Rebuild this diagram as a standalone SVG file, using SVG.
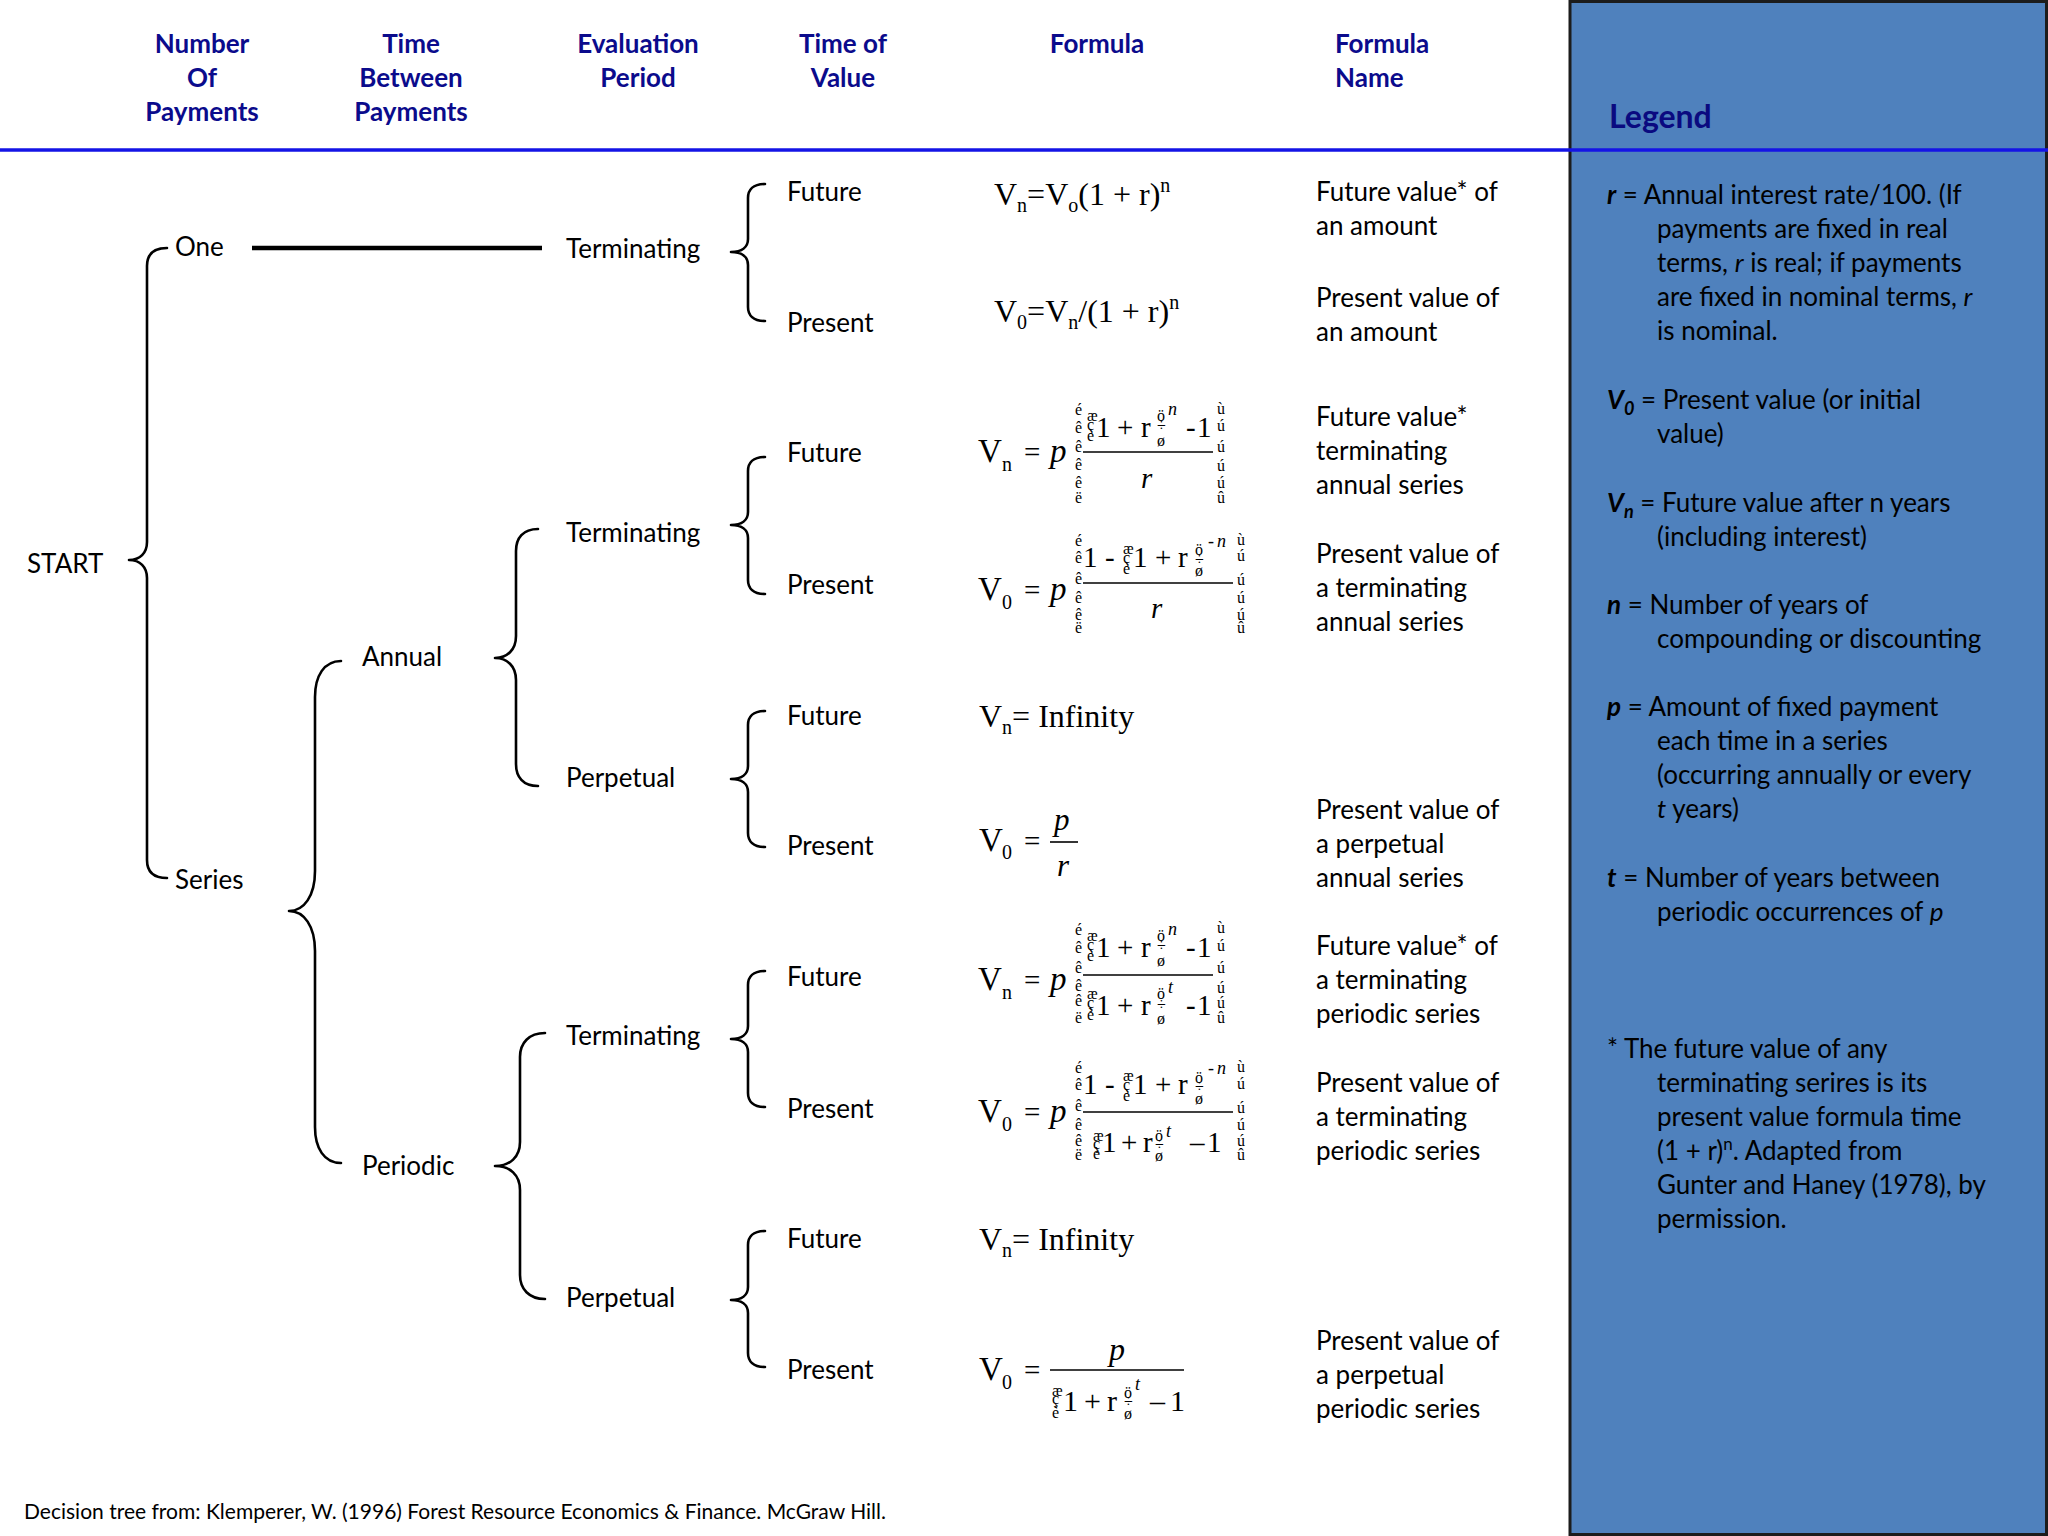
<svg xmlns="http://www.w3.org/2000/svg" width="2048" height="1536" viewBox="0 0 2048 1536">
<style>
.lbl{font-family:Lato,"Liberation Sans",sans-serif;font-size:26px;fill:#000}
.hdr{font-family:Lato,"Liberation Sans",sans-serif;font-weight:bold;font-size:26px;fill:#0b0b8c;text-anchor:middle}
.hdrl{font-family:Lato,"Liberation Sans",sans-serif;font-weight:bold;font-size:26px;fill:#0b0b8c}
.lg{font-family:Lato,"Liberation Sans",sans-serif;font-size:26px;fill:#000}
.bi{font-weight:bold;font-style:italic}
.i{font-style:italic}
.fm{font-family:"Liberation Serif","Times New Roman",serif;fill:#000}
.V{font-size:33px}
.sub{font-size:20px}
.sup{font-size:18px}
.num{font-size:29px}
.big{font-size:32px}
.br{font-size:16px}
.it{font-style:italic}
.brace{fill:none;stroke:#000;stroke-width:2.6;stroke-linecap:round;stroke-linejoin:round}
.fl{stroke:#000;stroke-width:1.6}
</style>
<rect x="0" y="0" width="2048" height="1536" fill="#fff"/>

<g id="legend-panel">
<rect x="1570" y="1.5" width="476.5" height="1533" fill="#4f81bd" stroke="#1c1c1c" stroke-width="3"/>
</g>
<line id="header-rule" x1="0" y1="150" x2="2048" y2="150" stroke="#1414e6" stroke-width="3.5"/>

<g id="headers">
<text class="hdr"><tspan x="202" y="53">Number</tspan><tspan x="202" y="87">Of</tspan><tspan x="202" y="121">Payments</tspan></text>
<text class="hdr"><tspan x="411" y="53">Time</tspan><tspan x="411" y="87">Between</tspan><tspan x="411" y="121">Payments</tspan></text>
<text class="hdr"><tspan x="638" y="53">Evaluation</tspan><tspan x="638" y="87">Period</tspan></text>
<text class="hdr"><tspan x="843" y="53">Time of</tspan><tspan x="843" y="87">Value</tspan></text>
<text class="hdr"><tspan x="1097" y="53">Formula</tspan></text>
<text class="hdrl"><tspan x="1335" y="53">Formula</tspan><tspan x="1335" y="87">Name</tspan></text>
<text class="hdrl" x="1609" y="128" style="font-size:32px;fill:#0a0a80">Legend</text>
</g>

<g id="connectors">
<path class="brace" d="M167,248 C153,248 147,255 147,266 L147,542 C147,553 140,560 129,560 C140,560 147,567 147,578 L147,860 C147,871 153,878 167,878"/>
<line x1="252" y1="248" x2="542" y2="248" stroke="#000" stroke-width="4.5"/>
<path class="brace" d="M341,661 C324,661 315,676 315,697 L315,871 C315,896 304,911 289,911 C304,911 315,926 315,951 L315,1127 C315,1148 324,1163 341,1163"/>
<path class="brace" d="M538,529 C523,529 516,538 516,551 L516,636 C516,650 507,658 495,658 C507,658 516,666 516,680 L516,764 C516,777 523,786 538,786"/>
<path class="brace" d="M545,1033 C529,1033 520,1043 520,1057 L520,1142 C520,1157 510,1166 495,1166 C510,1166 520,1175 520,1190 L520,1275 C520,1289 529,1299 545,1299"/>
<path class="brace" d="M765,184 C753,184 748,190 748,198 L748,239 C748,247 742,252 731,252 C742,252 748,257 748,265 L748,307 C748,315 753,321 765,321"/>
<path class="brace" d="M765,457 C753,457 748,463 748,471 L748,512 C748,520 742,525 731,525 C742,525 748,530 748,538 L748,580 C748,588 753,594 765,594"/>
<path class="brace" d="M765,711 C753,711 748,717 748,725 L748,766 C748,774 742,779 731,779 C742,779 748,784 748,792 L748,833 C748,841 753,847 765,847"/>
<path class="brace" d="M765,971 C753,971 748,977 748,985 L748,1026 C748,1034 742,1039 731,1039 C742,1039 748,1044 748,1052 L748,1093 C748,1101 753,1107 765,1107"/>
<path class="brace" d="M765,1231 C753,1231 748,1237 748,1245 L748,1287 C748,1295 742,1300 731,1300 C742,1300 748,1305 748,1313 L748,1353 C748,1361 753,1367 765,1367"/>
</g>

<g id="node-start"><text class="lbl" x="27" y="573">START</text></g>
<g id="node-one"><text class="lbl" x="175" y="256">One</text></g>
<g id="node-series"><text class="lbl" x="175" y="889">Series</text></g>
<g id="node-annual"><text class="lbl" x="362" y="666">Annual</text></g>
<g id="node-periodic"><text class="lbl" x="362" y="1175">Periodic</text></g>
<g id="node-one-terminating"><text class="lbl" x="566" y="258">Terminating</text></g>
<g id="node-annual-terminating"><text class="lbl" x="566" y="542">Terminating</text></g>
<g id="node-annual-perpetual"><text class="lbl" x="566" y="787">Perpetual</text></g>
<g id="node-periodic-terminating"><text class="lbl" x="566" y="1045">Terminating</text></g>
<g id="node-periodic-perpetual"><text class="lbl" x="566" y="1307">Perpetual</text></g>

<g id="node-tov-1"><text class="lbl" x="787" y="201">Future</text><text class="lbl" x="787" y="332">Present</text></g>
<g id="node-tov-2"><text class="lbl" x="787" y="462">Future</text><text class="lbl" x="787" y="594">Present</text></g>
<g id="node-tov-3"><text class="lbl" x="787" y="725">Future</text><text class="lbl" x="787" y="855">Present</text></g>
<g id="node-tov-4"><text class="lbl" x="787" y="986">Future</text><text class="lbl" x="787" y="1118">Present</text></g>
<g id="node-tov-5"><text class="lbl" x="787" y="1248">Future</text><text class="lbl" x="787" y="1379">Present</text></g>

<g id="formula-1">
<text class="fm big" x="994" y="205">V<tspan class="sub" dy="7">n</tspan><tspan dy="-7">=V</tspan><tspan class="sub" dy="7">o</tspan><tspan dy="-7">(1 + r)</tspan><tspan class="sub" dy="-13">n</tspan></text>
</g>
<g id="formula-2">
<text class="fm big" x="994" y="322">V<tspan class="sub" dy="7">0</tspan><tspan dy="-7">=V</tspan><tspan class="sub" dy="7">n</tspan><tspan dy="-7">/(1 + r)</tspan><tspan class="sub" dy="-13">n</tspan></text>
</g>

<g id="formula-3">
<text class="fm V" x="978" y="462">V</text>
<text class="fm sub" x="1002" y="471">n</text>
<text class="fm num" x="1024" y="462">=</text>
<text class="fm V it" x="1050" y="462">p</text>
<text class="fm br"><tspan x="1075" y="415">é</tspan><tspan x="1075" y="433">ê</tspan><tspan x="1075" y="452">ê</tspan><tspan x="1075" y="470">ê</tspan><tspan x="1075" y="488">ê</tspan><tspan x="1075" y="503">ë</tspan></text>
<text class="fm br"><tspan x="1087" y="421">æ</tspan><tspan x="1087" y="430">ç</tspan><tspan x="1087" y="441">è</tspan></text>
<text class="fm num" x="1096 1117 1141" y="437">1+r</text>
<text class="fm br"><tspan x="1157" y="421">ö</tspan><tspan x="1157" y="431">÷</tspan><tspan x="1157" y="446">ø</tspan></text>
<text class="fm sup it" x="1168" y="415">n</text>
<text class="fm num" x="1186 1197" y="437">-1</text>
<text class="fm br"><tspan x="1217" y="414">ù</tspan><tspan x="1217" y="431">ú</tspan><tspan x="1217" y="452">ú</tspan><tspan x="1217" y="471">ú</tspan><tspan x="1217" y="488">ú</tspan><tspan x="1217" y="503">û</tspan></text>
<line class="fl" x1="1083" y1="452" x2="1213" y2="452"/>
<text class="fm num it" x="1141" y="488">r</text>
</g>

<g id="formula-4">
<text class="fm V" x="978" y="600">V</text>
<text class="fm sub" x="1002" y="609">0</text>
<text class="fm num" x="1024" y="600">=</text>
<text class="fm V it" x="1050" y="600">p</text>
<text class="fm br"><tspan x="1075" y="546">é</tspan><tspan x="1075" y="563">ê</tspan><tspan x="1075" y="584">ê</tspan><tspan x="1075" y="603">ê</tspan><tspan x="1075" y="620">ê</tspan><tspan x="1075" y="633">ë</tspan></text>
<text class="fm num" x="1083 1105" y="567">1-</text>
<text class="fm br"><tspan x="1123" y="554">æ</tspan><tspan x="1123" y="563">ç</tspan><tspan x="1123" y="574">è</tspan></text>
<text class="fm num" x="1133 1155 1178" y="567">1+r</text>
<text class="fm br"><tspan x="1195" y="555">ö</tspan><tspan x="1195" y="565">÷</tspan><tspan x="1195" y="576">ø</tspan></text>
<text class="fm sup" x="1208" y="547">-</text>
<text class="fm sup it" x="1217" y="547">n</text>
<text class="fm br"><tspan x="1237" y="545">ù</tspan><tspan x="1237" y="561">ú</tspan><tspan x="1237" y="585">ú</tspan><tspan x="1237" y="603">ú</tspan><tspan x="1237" y="620">ú</tspan><tspan x="1237" y="633">û</tspan></text>
<line class="fl" x1="1083" y1="583" x2="1233" y2="583"/>
<text class="fm num it" x="1151" y="618">r</text>
</g>

<g id="formula-5">
<text class="fm big" x="979" y="727">V<tspan class="sub" dy="7">n</tspan><tspan dy="-7">= Infinity</tspan></text>
</g>

<g id="formula-6">
<text class="fm V" x="979" y="851">V</text>
<text class="fm sub" x="1002" y="859">0</text>
<text class="fm num" x="1024" y="851">=</text>
<line class="fl" x1="1050" y1="842" x2="1078" y2="842"/>
<text class="fm it" font-size="31" x="1054" y="830">p</text>
<text class="fm it" font-size="31" x="1057" y="876">r</text>
</g>

<g id="formula-7">
<text class="fm V" x="978" y="990">V</text>
<text class="fm sub" x="1002" y="999">n</text>
<text class="fm num" x="1024" y="990">=</text>
<text class="fm V it" x="1050" y="990">p</text>
<text class="fm br"><tspan x="1075" y="935">é</tspan><tspan x="1075" y="953">ê</tspan><tspan x="1075" y="973">ê</tspan><tspan x="1075" y="991">ê</tspan><tspan x="1075" y="1006">ê</tspan><tspan x="1075" y="1023">ë</tspan></text>
<text class="fm br"><tspan x="1087" y="941">æ</tspan><tspan x="1087" y="950">ç</tspan><tspan x="1087" y="961">è</tspan></text>
<text class="fm num" x="1096 1117 1141" y="957">1+r</text>
<text class="fm br"><tspan x="1157" y="941">ö</tspan><tspan x="1157" y="951">÷</tspan><tspan x="1157" y="966">ø</tspan></text>
<text class="fm sup it" x="1168" y="935">n</text>
<text class="fm num" x="1186 1197" y="957">-1</text>
<line class="fl" x1="1083" y1="975" x2="1213" y2="975"/>
<text class="fm br"><tspan x="1087" y="999">æ</tspan><tspan x="1087" y="1008">ç</tspan><tspan x="1087" y="1020">è</tspan></text>
<text class="fm num" x="1096 1117 1141" y="1015">1+r</text>
<text class="fm br"><tspan x="1157" y="999">ö</tspan><tspan x="1157" y="1010">÷</tspan><tspan x="1157" y="1024">ø</tspan></text>
<text class="fm sup it" x="1168" y="993">t</text>
<text class="fm num" x="1186 1197" y="1015">-1</text>
<text class="fm br"><tspan x="1217" y="933">ù</tspan><tspan x="1217" y="951">ú</tspan><tspan x="1217" y="973">ú</tspan><tspan x="1217" y="993">ú</tspan><tspan x="1217" y="1008">ú</tspan><tspan x="1217" y="1023">û</tspan></text>
</g>

<g id="formula-8">
<text class="fm V" x="978" y="1122">V</text>
<text class="fm sub" x="1002" y="1131">0</text>
<text class="fm num" x="1024" y="1122">=</text>
<text class="fm V it" x="1050" y="1122">p</text>
<text class="fm br"><tspan x="1075" y="1073">é</tspan><tspan x="1075" y="1090">ê</tspan><tspan x="1075" y="1111">ê</tspan><tspan x="1075" y="1130">ê</tspan><tspan x="1075" y="1146">ê</tspan><tspan x="1075" y="1160">ë</tspan></text>
<text class="fm num" x="1083 1105" y="1094">1-</text>
<text class="fm br"><tspan x="1123" y="1081">æ</tspan><tspan x="1123" y="1090">ç</tspan><tspan x="1123" y="1101">è</tspan></text>
<text class="fm num" x="1133 1155 1178" y="1094">1+r</text>
<text class="fm br"><tspan x="1195" y="1083">ö</tspan><tspan x="1195" y="1092">÷</tspan><tspan x="1195" y="1104">ø</tspan></text>
<text class="fm sup" x="1208" y="1074">-</text>
<text class="fm sup it" x="1217" y="1074">n</text>
<text class="fm br"><tspan x="1237" y="1072">ù</tspan><tspan x="1237" y="1089">ú</tspan><tspan x="1237" y="1113">ú</tspan><tspan x="1237" y="1130">ú</tspan><tspan x="1237" y="1146">ú</tspan><tspan x="1237" y="1160">û</tspan></text>
<line class="fl" x1="1083" y1="1112" x2="1233" y2="1112"/>
<text class="fm br"><tspan x="1093" y="1141">æ</tspan><tspan x="1093" y="1149">ç</tspan><tspan x="1093" y="1159">è</tspan></text>
<text class="fm num" x="1102 1121 1143" y="1152">1+r</text>
<text class="fm br"><tspan x="1155" y="1141">ö</tspan><tspan x="1155" y="1150">÷</tspan><tspan x="1155" y="1161">ø</tspan></text>
<text class="fm sup it" x="1166" y="1137">t</text>
<text class="fm num" x="1190 1207" y="1152">–1</text>
</g>

<g id="formula-9">
<text class="fm big" x="979" y="1250">V<tspan class="sub" dy="7">n</tspan><tspan dy="-7">= Infinity</tspan></text>
</g>

<g id="formula-10">
<text class="fm V" x="979" y="1380">V</text>
<text class="fm sub" x="1002" y="1389">0</text>
<text class="fm num" x="1024" y="1380">=</text>
<text class="fm it" font-size="32" x="1109" y="1360">p</text>
<line class="fl" x1="1050" y1="1370" x2="1184" y2="1370"/>
<text class="fm br"><tspan x="1052" y="1396">æ</tspan><tspan x="1052" y="1404">ç</tspan><tspan x="1052" y="1418">è</tspan></text>
<text class="fm" font-size="30" x="1063 1084 1107" y="1411">1+r</text>
<text class="fm br"><tspan x="1124" y="1398">ö</tspan><tspan x="1124" y="1407">÷</tspan><tspan x="1124" y="1419">ø</tspan></text>
<text class="fm sup it" x="1135" y="1390">t</text>
<text class="fm" font-size="30" x="1150 1170" y="1411">–1</text>
</g>

<g id="formula-names">
<text class="lbl"><tspan x="1316" y="201">Future value* of</tspan><tspan x="1316" y="235">an amount</tspan></text>
<text class="lbl"><tspan x="1316" y="307">Present value of</tspan><tspan x="1316" y="341">an amount</tspan></text>
<text class="lbl"><tspan x="1316" y="426">Future value*</tspan><tspan x="1316" y="460">terminating</tspan><tspan x="1316" y="494">annual series</tspan></text>
<text class="lbl"><tspan x="1316" y="563">Present value of</tspan><tspan x="1316" y="597">a terminating</tspan><tspan x="1316" y="631">annual series</tspan></text>
<text class="lbl"><tspan x="1316" y="819">Present value of</tspan><tspan x="1316" y="853">a perpetual</tspan><tspan x="1316" y="887">annual series</tspan></text>
<text class="lbl"><tspan x="1316" y="955">Future value* of</tspan><tspan x="1316" y="989">a terminating</tspan><tspan x="1316" y="1023">periodic series</tspan></text>
<text class="lbl"><tspan x="1316" y="1092">Present value of</tspan><tspan x="1316" y="1126">a terminating</tspan><tspan x="1316" y="1160">periodic series</tspan></text>
<text class="lbl"><tspan x="1316" y="1350">Present value of</tspan><tspan x="1316" y="1384">a perpetual</tspan><tspan x="1316" y="1418">periodic series</tspan></text>
</g>

<g id="legend-text">
<text class="lg">
<tspan x="1607" y="204"><tspan class="bi">r</tspan> = Annual interest rate/100. (If</tspan>
<tspan x="1657" y="238">payments are fixed in real</tspan>
<tspan x="1657" y="272">terms, <tspan class="i">r</tspan> is real; if payments</tspan>
<tspan x="1657" y="306">are fixed in nominal terms, <tspan class="i">r</tspan></tspan>
<tspan x="1657" y="340">is nominal.</tspan>
</text>
<text class="lg">
<tspan x="1607" y="409"><tspan class="bi">V</tspan><tspan class="bi" font-size="18" dy="6">0</tspan><tspan dy="-6"> = Present value (or initial</tspan></tspan>
<tspan x="1657" y="443">value)</tspan>
</text>
<text class="lg">
<tspan x="1607" y="512"><tspan class="bi">V</tspan><tspan class="bi" font-size="18" dy="6">n</tspan><tspan dy="-6"> = Future value after n years</tspan></tspan>
<tspan x="1657" y="546">(including interest)</tspan>
</text>
<text class="lg">
<tspan x="1607" y="614"><tspan class="bi">n</tspan> = Number of years of</tspan>
<tspan x="1657" y="648">compounding or discounting</tspan>
</text>
<text class="lg">
<tspan x="1607" y="716"><tspan class="bi">p</tspan> = Amount of fixed payment</tspan>
<tspan x="1657" y="750">each time in a series</tspan>
<tspan x="1657" y="784">(occurring annually or every</tspan>
<tspan x="1657" y="818"><tspan class="i">t</tspan> years)</tspan>
</text>
<text class="lg">
<tspan x="1607" y="887"><tspan class="bi">t</tspan> = Number of years between</tspan>
<tspan x="1657" y="921">periodic occurrences of <tspan class="i">p</tspan></tspan>
</text>
<text class="lg">
<tspan x="1607" y="1058">* The future value of any</tspan>
<tspan x="1657" y="1092">terminating serires is its</tspan>
<tspan x="1657" y="1126">present value formula time</tspan>
<tspan x="1657" y="1160">(1 + r)<tspan font-size="17" dy="-10">n</tspan><tspan dy="10">. Adapted from</tspan></tspan>
<tspan x="1657" y="1194">Gunter and Haney (1978), by</tspan>
<tspan x="1657" y="1228">permission.</tspan>
</text>
</g>

<g id="footer">
<text class="lbl" x="24" y="1519" style="font-size:21px" textLength="862" lengthAdjust="spacingAndGlyphs">Decision tree from: Klemperer, W. (1996) Forest Resource Economics &amp; Finance. McGraw Hill.</text>
</g>
</svg>
